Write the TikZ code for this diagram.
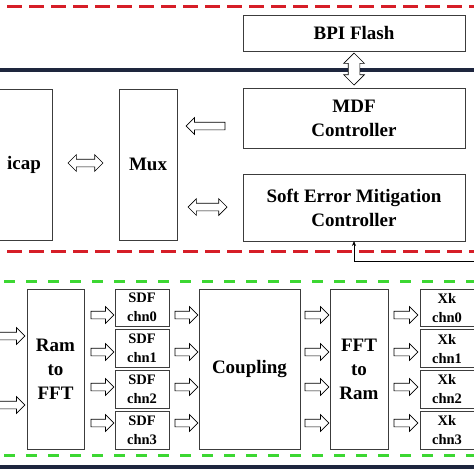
\documentclass[tikz,border=0pt]{standalone}
\usepackage{fontspec}
\setmainfont{Liberation Serif}
\usetikzlibrary{shapes.arrows,arrows.meta}
\definecolor{navy}{RGB}{30,38,62}
\definecolor{redd}{RGB}{214,30,40}
\definecolor{greend}{RGB}{60,215,50}
\definecolor{boxc}{RGB}{60,60,60}
\tikzset{
  box/.style={draw=boxc, line width=0.9pt, fill=white, inner sep=0pt, outer sep=0pt, align=center, font=\bfseries\fontsize{19}{24}\selectfont},
  sbox/.style={box, minimum width=54pt, minimum height=37.4pt, font=\bfseries\fontsize{14.5}{19}\selectfont},
  barrow/.style={single arrow, draw=black, line width=0.7pt, fill=white, inner sep=3.5pt, minimum width=0pt, single arrow head extend=4.5pt},
  darrow/.style={double arrow, draw=black, line width=0.7pt, fill=white, inner sep=3.5pt, minimum width=0pt, double arrow head extend=4.5pt},
  reddash/.style={draw=redd, line width=3pt, dash pattern=on 15pt off 7pt},
  greendash/.style={draw=greend, line width=3pt, dash pattern=on 11pt off 11pt},
  navyline/.style={draw=navy, line width=3.5pt},
  conn/.style={draw=black, line width=0.8pt, -{Stealth[length=5pt,width=4pt]}}
}
\begin{document}
\begin{tikzpicture}[x=1pt,y=-1pt]
\useasboundingbox (0,0) rectangle (474,474);
% separator lines
\coordinate (r1a) at (7,6);   \coordinate (r1b) at (480,6);
\coordinate (r2a) at (7,251); \coordinate (r2b) at (480,251);
\coordinate (g1a) at (4,281); \coordinate (g1b) at (480,281);
\coordinate (g2a) at (4,455); \coordinate (g2b) at (480,455);
\coordinate (n1a) at (-5,70); \coordinate (n1b) at (480,70);
\coordinate (n2a) at (-5,467);\coordinate (n2b) at (480,467);
\draw[reddash] (r1a) -- (r1b);
\draw[reddash] (r2a) -- (r2b);
\draw[greendash] (g1a) -- (g1b);
\draw[greendash] (g2a) -- (g2b);
\draw[navyline] (n1a) -- (n1b);
\draw[navyline] (n2a) -- (n2b);
% upper boxes
\node[box, minimum width=222pt, minimum height=36pt] (bpi) at (354,33) {BPI Flash};
\node[box, minimum width=222pt, minimum height=60pt] (mdf) at (354,118) {MDF\\Controller};
\node[box, minimum width=222pt, minimum height=67pt] (sem) at (354,207.5) {Soft Error Mitigation\\Controller};
\node[box, minimum width=56pt, minimum height=151pt] (icap) at (24,164.5) {icap};
\node[box, minimum width=58pt, minimum height=151pt] (mux) at (148,164.5) {Mux};
% upper arrows
\node[darrow, minimum height=35pt] (a1) at (85.5,163) {};
\node[barrow, minimum height=39pt, rotate=180] (a2) at (207.5,126) {};
\node[darrow, minimum height=39pt] (a3) at (207.5,207) {};
\node[darrow, minimum height=32pt, inner sep=5.5pt, double arrow head extend=4.5pt, rotate=90] (a4) at (354,69) {};
% feedback connector
\coordinate (ext) at (480,261);
\draw[conn] (ext) -| (sem.south);
% lower boxes
\node[box, minimum width=57pt, minimum height=160pt] (r2f) at (55.5,369) {Ram\\to\\FFT};
\node[box, minimum width=101pt, minimum height=160pt] (cpl) at (249.5,369) {Coupling};
\node[box, minimum width=58pt, minimum height=160pt] (f2r) at (359,369) {FFT\\to\\Ram};
\foreach \i/\y in {0/307.7,1/348.6,2/389.5,3/430.3}{
  \node[sbox] (sdf\i) at (142,\y) {SDF\\chn\i};
  \node[sbox] (xk\i) at (447,\y) {Xk\\chn\i};
}
% lower arrows
\node[barrow, minimum height=30pt] (in1) at (8,336) {};
\node[barrow, minimum height=30pt] (in2) at (8,405) {};
\foreach \i/\y in {0/315,1/352,2/387,3/423}{
  \node[barrow, minimum height=23pt] (b\i) at (100.5,\y) {};
  \node[barrow, minimum height=23pt] (c\i) at (184.5,\y) {};
  \node[barrow, minimum height=24pt] (d\i) at (315,\y) {};
  \node[barrow, minimum height=24pt] (e\i) at (404,\y) {};
}
\end{tikzpicture}
\end{document}
